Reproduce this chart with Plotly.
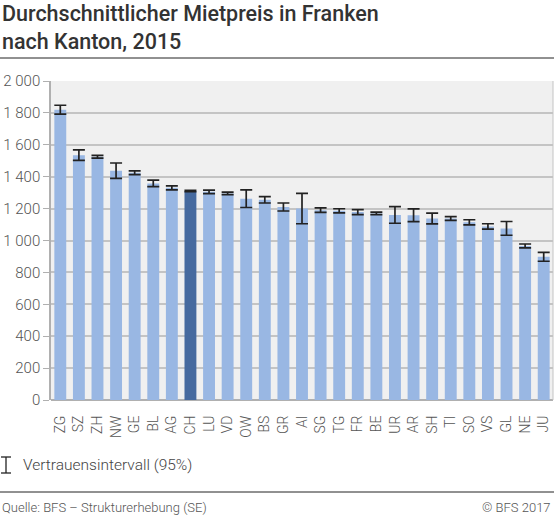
import plotly.graph_objects as go

kantone = ['ZG', 'SZ', 'ZH', 'NW', 'GE', 'BL', 'AG', 'CH', 'LU', 'VD', 'OW', 'BS', 'GR', 'AI',
           'SG', 'TG', 'FR', 'BE', 'UR', 'AR', 'SH', 'TI', 'SO', 'VS', 'GL', 'NE', 'JU']
mietpreis = [1820, 1535, 1525, 1438, 1425, 1358, 1330, 1310, 1305, 1295, 1262, 1255, 1210, 1200,
             1190, 1186, 1178, 1170, 1160, 1158, 1138, 1138, 1114, 1088, 1076, 966, 898]
ki = [28, 33, 9, 48, 12, 20, 13, 4, 11, 8, 55, 20, 25, 95,
      14, 13, 16, 8, 52, 40, 34, 12, 16, 17, 43, 12, 28]

hell = '#99b7e3'
dunkel = '#466a9f'
farben = [dunkel if k == 'CH' else hell for k in kantone]

font_fam = 'Roboto, Arial, sans-serif'

fig = go.Figure(go.Bar(
    x=kantone, y=mietpreis,
    marker=dict(color=farben, line=dict(width=0)),
    error_y=dict(type='data', array=ki, visible=True, color='#222222', thickness=1.7, width=6),
    showlegend=False,
))

# paper coords: plot spans x 51..553, y 81..400 px
pw, ph = 502, 319
def px_x(x):
    return (x - 51) / pw
def px_y(y):
    return (400 - y) / ph

fig.update_layout(
    width=554, height=519,
    margin=dict(l=51, r=1, t=81, b=119),
    paper_bgcolor='white',
    plot_bgcolor='#f0f0f0',
    bargap=0.36,
    separators='. ',
    font=dict(family=font_fam, color='#555555', size=13),
    xaxis=dict(tickangle=-90, tickfont=dict(size=14, color='#555555', weight=300),
               showline=False, ticks='outside', ticklen=9, tickcolor='rgba(0,0,0,0)',
               showgrid=False),
    yaxis=dict(range=[0, 2000], dtick=200, tickformat=',d',
               tickfont=dict(size=15, color='#555555', weight=300),
               showgrid=True, gridcolor='#c4c4c4', gridwidth=1.5,
               showline=True, linecolor='#b0b0b0', linewidth=1.5,
               ticks='outside', ticklen=6, tickcolor='#b0b0b0',
               zeroline=True, zerolinecolor='#b0b0b0', zerolinewidth=1.5),
    shapes=[
        dict(type='line', xref='paper', yref='paper', x0=px_x(0), x1=px_x(554),
             y0=px_y(58), y1=px_y(58), line=dict(color='#222222', width=1)),
        dict(type='line', xref='paper', yref='paper', x0=px_x(0), x1=px_x(554),
             y0=px_y(492), y1=px_y(492), line=dict(color='#222222', width=1)),
        dict(type='line', xref='paper', yref='paper', x0=px_x(553), x1=px_x(553),
             y0=0, y1=1, line=dict(color='#c4c4c4', width=1)),
        # legend symbol (I-beam)
        dict(type='line', xref='paper', yref='paper', x0=px_x(6), x1=px_x(6),
             y0=px_y(457), y1=px_y(473), line=dict(color='#222222', width=1.3)),
        dict(type='line', xref='paper', yref='paper', x0=px_x(1), x1=px_x(11),
             y0=px_y(457), y1=px_y(457), line=dict(color='#222222', width=1.3)),
        dict(type='line', xref='paper', yref='paper', x0=px_x(1), x1=px_x(11),
             y0=px_y(473), y1=px_y(473), line=dict(color='#222222', width=1.3)),
    ],
    annotations=[
        dict(text='Durchschnittlicher Mietpreis in Franken<br>nach Kanton, 2015',
             xref='paper', yref='paper', x=px_x(0), y=px_y(-1), xanchor='left', yanchor='top',
             align='left', showarrow=False,
             font=dict(size=21.5, color='#333333', weight=500)),
        dict(text='Vertrauensintervall (95%)', xref='paper', yref='paper',
             x=px_x(21), y=px_y(465), xanchor='left', yanchor='middle', showarrow=False,
             font=dict(size=15.5, color='#444444', weight=300)),
        dict(text='Quelle: BFS – Strukturerhebung (SE)', xref='paper', yref='paper',
             x=px_x(0), y=px_y(507), xanchor='left', yanchor='middle', showarrow=False,
             font=dict(size=13, color='#555555', weight=300)),
        dict(text='© BFS 2017', xref='paper', yref='paper',
             x=px_x(553), y=px_y(507), xanchor='right', yanchor='middle', showarrow=False,
             font=dict(size=13, color='#555555', weight=300)),
    ],
)

fig.write_html('out.html', config={'displayModeBar': False},
               post_script="document.body.style.margin='0px';")
